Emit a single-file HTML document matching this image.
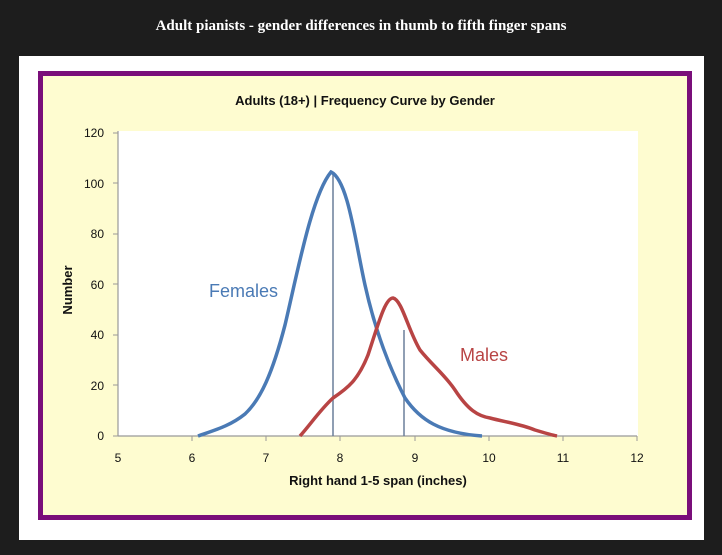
<!DOCTYPE html>
<html><head><style>
body{margin:0;width:722px;height:550px;background:#1d1d1d;overflow:hidden;}
</style></head><body>
<svg width="722" height="550" xmlns="http://www.w3.org/2000/svg" font-family="Liberation Sans, sans-serif">
<rect width="722" height="550" fill="#1d1d1d"/>
<text x="361" y="30" fill="#fff" font-family="Liberation Serif, serif" font-size="15" font-weight="bold" text-anchor="middle">Adult pianists - gender differences in thumb to fifth finger spans</text>
<rect x="19" y="56" width="685" height="484" fill="#fff"/>
<rect x="40.5" y="73.5" width="649" height="444" fill="#fefcd0" stroke="#7a0e7a" stroke-width="5"/>
<rect x="118" y="131" width="520" height="305" fill="#fff"/>
<text x="365" y="105" font-size="13" font-weight="bold" text-anchor="middle" fill="#111">Adults (18+) | Frequency Curve by Gender</text>
<g stroke="#999" stroke-width="1.2">
<line x1="118" y1="131" x2="118" y2="436"/>
<line x1="118" y1="436" x2="637" y2="436"/>
</g>
<g font-size="12" fill="#111" text-anchor="end">
<text x="104" y="440">0</text><text x="104" y="390">20</text><text x="104" y="339">40</text><text x="104" y="289">60</text><text x="104" y="238">80</text><text x="104" y="188">100</text><text x="104" y="137">120</text>
</g>
<g stroke="#999"><line x1="113" y1="436" x2="118" y2="436"/><line x1="113" y1="385" x2="118" y2="385"/><line x1="113" y1="335" x2="118" y2="335"/><line x1="113" y1="284" x2="118" y2="284"/><line x1="113" y1="234" x2="118" y2="234"/><line x1="113" y1="183" x2="118" y2="183"/><line x1="113" y1="133" x2="118" y2="133"/></g>
<g font-size="12" fill="#111" text-anchor="middle">
<text x="118" y="462">5</text><text x="192" y="462">6</text><text x="266" y="462">7</text><text x="340" y="462">8</text><text x="415" y="462">9</text><text x="489" y="462">10</text><text x="563" y="462">11</text><text x="637" y="462">12</text>
</g>
<g stroke="#999"><line x1="192" y1="436" x2="192" y2="441"/><line x1="266" y1="436" x2="266" y2="441"/><line x1="340" y1="436" x2="340" y2="441"/><line x1="415" y1="436" x2="415" y2="441"/><line x1="489" y1="436" x2="489" y2="441"/><line x1="563" y1="436" x2="563" y2="441"/><line x1="637" y1="436" x2="637" y2="441"/></g>
<text x="378" y="485" font-size="13" font-weight="bold" text-anchor="middle" fill="#111">Right hand 1-5 span (inches)</text>
<text transform="translate(72,290) rotate(-90)" font-size="13" font-weight="bold" text-anchor="middle" fill="#111">Number</text>
<line x1="333" y1="172" x2="333" y2="436" stroke="#6a7f9a" stroke-width="1.5"/>
<line x1="404" y1="330" x2="404" y2="436" stroke="#6a7f9a" stroke-width="1.5"/>
<path d="M198,436 C215,430 230,426 245,414 C260,400 272,375 285,325 C298,270 312,195 331,172 C348,180 355,240 365,285 C375,330 388,365 405,398 C420,420 440,433 482,436" fill="none" stroke="#4a7ab5" stroke-width="3.5"/>
<path d="M300,436 C310,425 320,410 333,398 C348,388 358,380 368,355 C378,325 385,298 393,298 C402,300 408,330 420,350 C432,365 445,375 455,390 C468,410 478,416 490,418 C505,422 520,424 535,430 C545,433 552,435 557,436" fill="none" stroke="#b84444" stroke-width="3.5"/>
<text x="209" y="297" font-size="18" fill="#4a7ab5">Females</text>
<text x="460" y="361" font-size="18" fill="#b84444">Males</text>
</svg>
</body></html>
